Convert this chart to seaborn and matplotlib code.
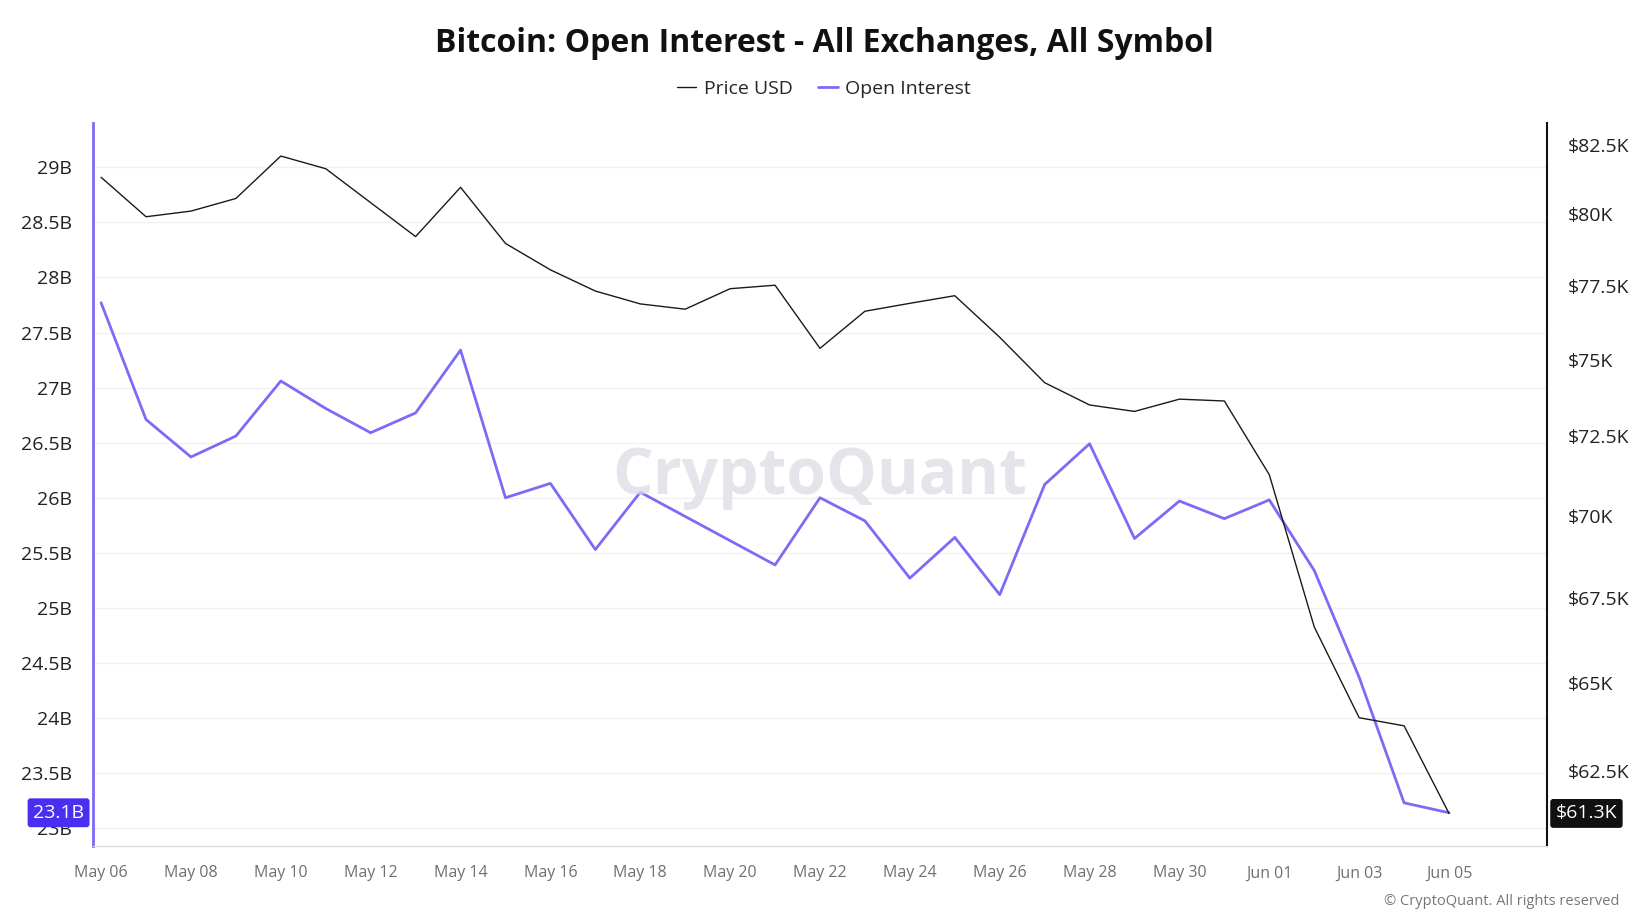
import numpy as np
import pandas as pd
import matplotlib
matplotlib.use("Agg")
from matplotlib import pyplot as plt
import matplotlib.dates as mdates
from matplotlib.ticker import FixedLocator, NullLocator
from matplotlib.lines import Line2D
import seaborn as sns

# daily values, May 06 -> Jun 05
dates = pd.date_range("2024-05-06", "2024-06-05", freq="D")
open_interest_b = [27.77, 26.71, 26.37, 26.56, 27.06, 26.81, 26.59, 26.77, 27.34, 26.00,
                   26.13, 25.53, 26.05, 25.83, 25.61, 25.39, 26.00, 25.79, 25.27, 25.64,
                   25.12, 26.12, 26.49, 25.63, 25.97, 25.81, 25.98, 25.34, 24.37, 23.23,
                   23.14]
price_usd = [81330, 79920, 80120, 80570, 82100, 81640, 80420, 79220, 80970, 78980,
             78060, 77330, 76890, 76710, 77410, 77530, 75390, 76640, 76910, 77170,
             75760, 74250, 73520, 73310, 73710, 73650, 71280, 66630, 64000, 63770,
             61340]
oi_ticks = [23, 23.5, 24, 24.5, 25, 25.5, 26, 26.5, 27, 27.5, 28, 28.5, 29]
price_ticks = [62500, 65000, 67500, 70000, 72500, 75000, 77500, 80000, 82500]

OI_COLOR = "#7b6cf6"
BADGE_COLOR = "#4b2ff0"

df = pd.DataFrame({"date": dates, "oi": open_interest_b, "price": price_usd})

sns.set_style("white")
plt.rcParams["font.family"] = ["Open Sans", "DejaVu Sans"]

fig = plt.figure(figsize=(16.48, 9.21), dpi=100)
ax = fig.add_axes([0.0563, 0.0814, 0.8824, 0.7847])
ax2 = ax.twinx()

sns.lineplot(data=df, x="date", y="oi", ax=ax, color=OI_COLOR, linewidth=2.0)
sns.lineplot(data=df, x="date", y="price", ax=ax2, color="#1a1a1a", linewidth=1.0)

# x axis
x0 = mdates.date2num(dates[0])
ax.set_xlim(x0 - 0.185, x0 + 32.18)
ax.xaxis.set_major_locator(FixedLocator(mdates.date2num(dates[::2])))
ax.xaxis.set_major_formatter(mdates.DateFormatter("%b %d"))
ax.tick_params(axis="x", colors="#d8d9e3", length=10, width=1, pad=4,
               labelsize=11.5, labelcolor="#707070")
ax.set_xlabel("")

# left axis (open interest)
ax.set_ylim(22.838, 29.399)
ax.set_yticks(oi_ticks)
ax.set_yticklabels([f"{v:g}B" for v in oi_ticks])
ax.tick_params(axis="y", length=0, pad=15, labelsize=14, labelcolor="#222222")
ax.set_ylabel("")
ax.grid(axis="y", color="#f1f1f4", linewidth=1)
ax.grid(axis="x", visible=False)

# right axis (price, log)
ax2.set_yscale("log")
ax2.set_ylim(60460, 83300)
ax2.yaxis.set_major_locator(FixedLocator(price_ticks))
ax2.yaxis.set_minor_locator(NullLocator())
ax2.set_yticklabels([f"${v/1000:g}K" for v in price_ticks])
ax2.tick_params(axis="y", length=0, pad=15, labelsize=14, labelcolor="#222222")
ax2.set_ylabel("")
ax2.grid(False)

for a in (ax, ax2):
    a.spines["top"].set_visible(False)
    a.spines["bottom"].set_color("#d8d9e3")
ax.spines["left"].set_color(OI_COLOR)
ax.spines["left"].set_linewidth(2)
ax.spines["right"].set_visible(False)
ax2.spines["left"].set_visible(False)
ax2.spines["right"].set_color("#111111")
ax2.spines["right"].set_linewidth(1.5)

# last-value badges
ax.text(-0.006, open_interest_b[-1], f"{open_interest_b[-1]:.1f}B",
        transform=ax.get_yaxis_transform(), ha="right", va="center",
        fontsize=14, color="white", clip_on=False,
        bbox=dict(boxstyle="round,pad=0.28,rounding_size=0.15", fc=BADGE_COLOR, ec="none"))
ax2.text(1.006, price_usd[-1], f"${price_usd[-1]/1000:.1f}K",
         transform=ax2.get_yaxis_transform(), ha="left", va="center",
         fontsize=14, color="white", clip_on=False,
         bbox=dict(boxstyle="round,pad=0.28,rounding_size=0.15", fc="#111111", ec="none"))

# title, legend, watermark, credit
fig.text(0.5, 1 - 44 / 921, "Bitcoin: Open Interest - All Exchanges, All Symbol",
         ha="center", va="center", fontsize=23, fontweight="bold", color="#111111")
handles = [Line2D([], [], color="#1a1a1a", lw=1.0), Line2D([], [], color=OI_COLOR, lw=2.0)]
fig.legend(handles, ["Price USD", "Open Interest"], loc="center",
           bbox_to_anchor=(0.5, 1 - 89 / 921), ncol=2, frameon=False, fontsize=14,
           handlelength=1.0, handletextpad=0.4, columnspacing=1.3)
fig.text(0.4976, 0.481, "CryptoQuant", ha="center", va="center", fontsize=46,
         fontweight="bold", color="#dcdce4", alpha=0.75, zorder=0)
fig.text(0.9825, 1 - 901 / 921, "© CryptoQuant. All rights reserved", ha="right",
         va="center", fontsize=10.5, color="#777777")

fig.savefig("out.png", dpi=100)
